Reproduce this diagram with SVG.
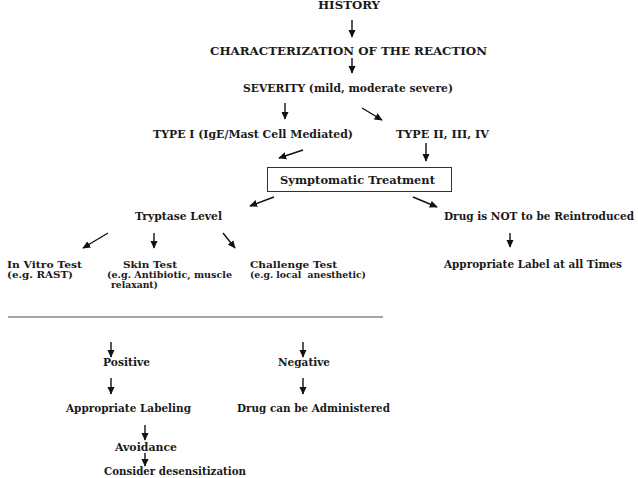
<svg xmlns="http://www.w3.org/2000/svg" width="638" height="478" viewBox="0 0 638 478">
<style>
text{font-family:"DejaVu Serif","Liberation Serif",serif;font-size:10.3px;font-weight:bold;fill:#1a1a1a}
text.s{font-size:9.2px}
.c line{stroke:#111;stroke-width:1.4;marker-end:url(#ah)}
</style>
<defs>
<marker id="ah" viewBox="0 0 10 10" refX="9" refY="5" markerWidth="8" markerHeight="8" orient="auto" markerUnits="userSpaceOnUse">
<path d="M0,0.5 L10,5 L0,9.5 Z" fill="#111"/>
</marker>
</defs>
<rect width="638" height="478" fill="#fff"/>
<g id="history"><text x="318" y="9" textLength="62" lengthAdjust="spacingAndGlyphs">HISTORY</text></g>
<g id="characterization"><text x="210" y="55" textLength="277" lengthAdjust="spacingAndGlyphs">CHARACTERIZATION OF THE REACTION</text></g>
<g id="severity"><text x="243" y="92" textLength="210" lengthAdjust="spacingAndGlyphs">SEVERITY (mild, moderate severe)</text></g>
<g id="type1"><text x="153" y="138" textLength="200" lengthAdjust="spacingAndGlyphs">TYPE I (IgE/Mast Cell Mediated)</text></g>
<g id="type2"><text x="396" y="138" textLength="93" lengthAdjust="spacingAndGlyphs">TYPE II, III, IV</text></g>
<g id="symptomatic"><rect x="267.5" y="167.5" width="184" height="24" fill="none" stroke="#333" stroke-width="1"/><text x="280" y="184" textLength="155" lengthAdjust="spacingAndGlyphs">Symptomatic Treatment</text></g>
<g id="tryptase"><text x="135" y="220" textLength="87" lengthAdjust="spacingAndGlyphs">Tryptase Level</text></g>
<g id="drugnot"><text x="444" y="220" textLength="190" lengthAdjust="spacingAndGlyphs">Drug is NOT to be Reintroduced</text></g>
<g id="invitro"><text class="s" x="7" y="268" textLength="75" lengthAdjust="spacingAndGlyphs">In Vitro Test</text><text class="s" x="7" y="278" textLength="66" lengthAdjust="spacingAndGlyphs">(e.g. RAST)</text></g>
<g id="skin"><text class="s" x="123" y="268" textLength="54" lengthAdjust="spacingAndGlyphs">Skin Test</text><text class="s" x="107" y="278" textLength="125" lengthAdjust="spacingAndGlyphs">(e.g. Antibiotic, muscle</text><text class="s" x="111" y="288" textLength="47" lengthAdjust="spacingAndGlyphs">relaxant)</text></g>
<g id="challenge"><text class="s" x="250" y="268" textLength="87" lengthAdjust="spacingAndGlyphs">Challenge Test</text><text class="s" x="250" y="278" textLength="116" lengthAdjust="spacingAndGlyphs" xml:space="preserve">(e.g. local  anesthetic)</text></g>
<g id="label"><text x="444" y="268" textLength="178" lengthAdjust="spacingAndGlyphs">Appropriate Label at all Times</text></g>
<line x1="8" y1="317" x2="383" y2="317" stroke="#888" stroke-width="1.5"/>
<g id="positive"><text x="103" y="366" textLength="47" lengthAdjust="spacingAndGlyphs">Positive</text></g>
<g id="negative"><text x="278" y="366" textLength="52" lengthAdjust="spacingAndGlyphs">Negative</text></g>
<g id="labeling"><text x="66" y="412" textLength="125" lengthAdjust="spacingAndGlyphs">Appropriate Labeling</text></g>
<g id="administered"><text x="237" y="412" textLength="153" lengthAdjust="spacingAndGlyphs">Drug can be Administered</text></g>
<g id="avoidance"><text x="115" y="451" textLength="62" lengthAdjust="spacingAndGlyphs">Avoidance</text></g>
<g id="desens"><text x="104" y="475" textLength="142" lengthAdjust="spacingAndGlyphs">Consider desensitization</text></g>
<g class="c" id="connectors">
<line x1="352" y1="20" x2="352" y2="37"/>
<line x1="352" y1="58" x2="352" y2="73"/>
<line x1="285" y1="103" x2="285" y2="119"/>
<line x1="362" y1="108" x2="382" y2="120"/>
<line x1="303" y1="150" x2="279" y2="158"/>
<line x1="426" y1="143" x2="426" y2="161"/>
<line x1="274" y1="197" x2="250" y2="206"/>
<line x1="413" y1="197" x2="437" y2="207"/>
<line x1="108" y1="233" x2="83" y2="248"/>
<line x1="154" y1="233" x2="154" y2="248"/>
<line x1="223" y1="233" x2="235" y2="248"/>
<line x1="510" y1="233" x2="510" y2="247"/>
<line x1="111" y1="342" x2="111" y2="357"/>
<line x1="303" y1="342" x2="303" y2="357"/>
<line x1="111" y1="378" x2="111" y2="394"/>
<line x1="303" y1="378" x2="303" y2="394"/>
<line x1="145" y1="425" x2="145" y2="440"/>
<line x1="145" y1="453" x2="145" y2="466"/>
</g>
</svg>
